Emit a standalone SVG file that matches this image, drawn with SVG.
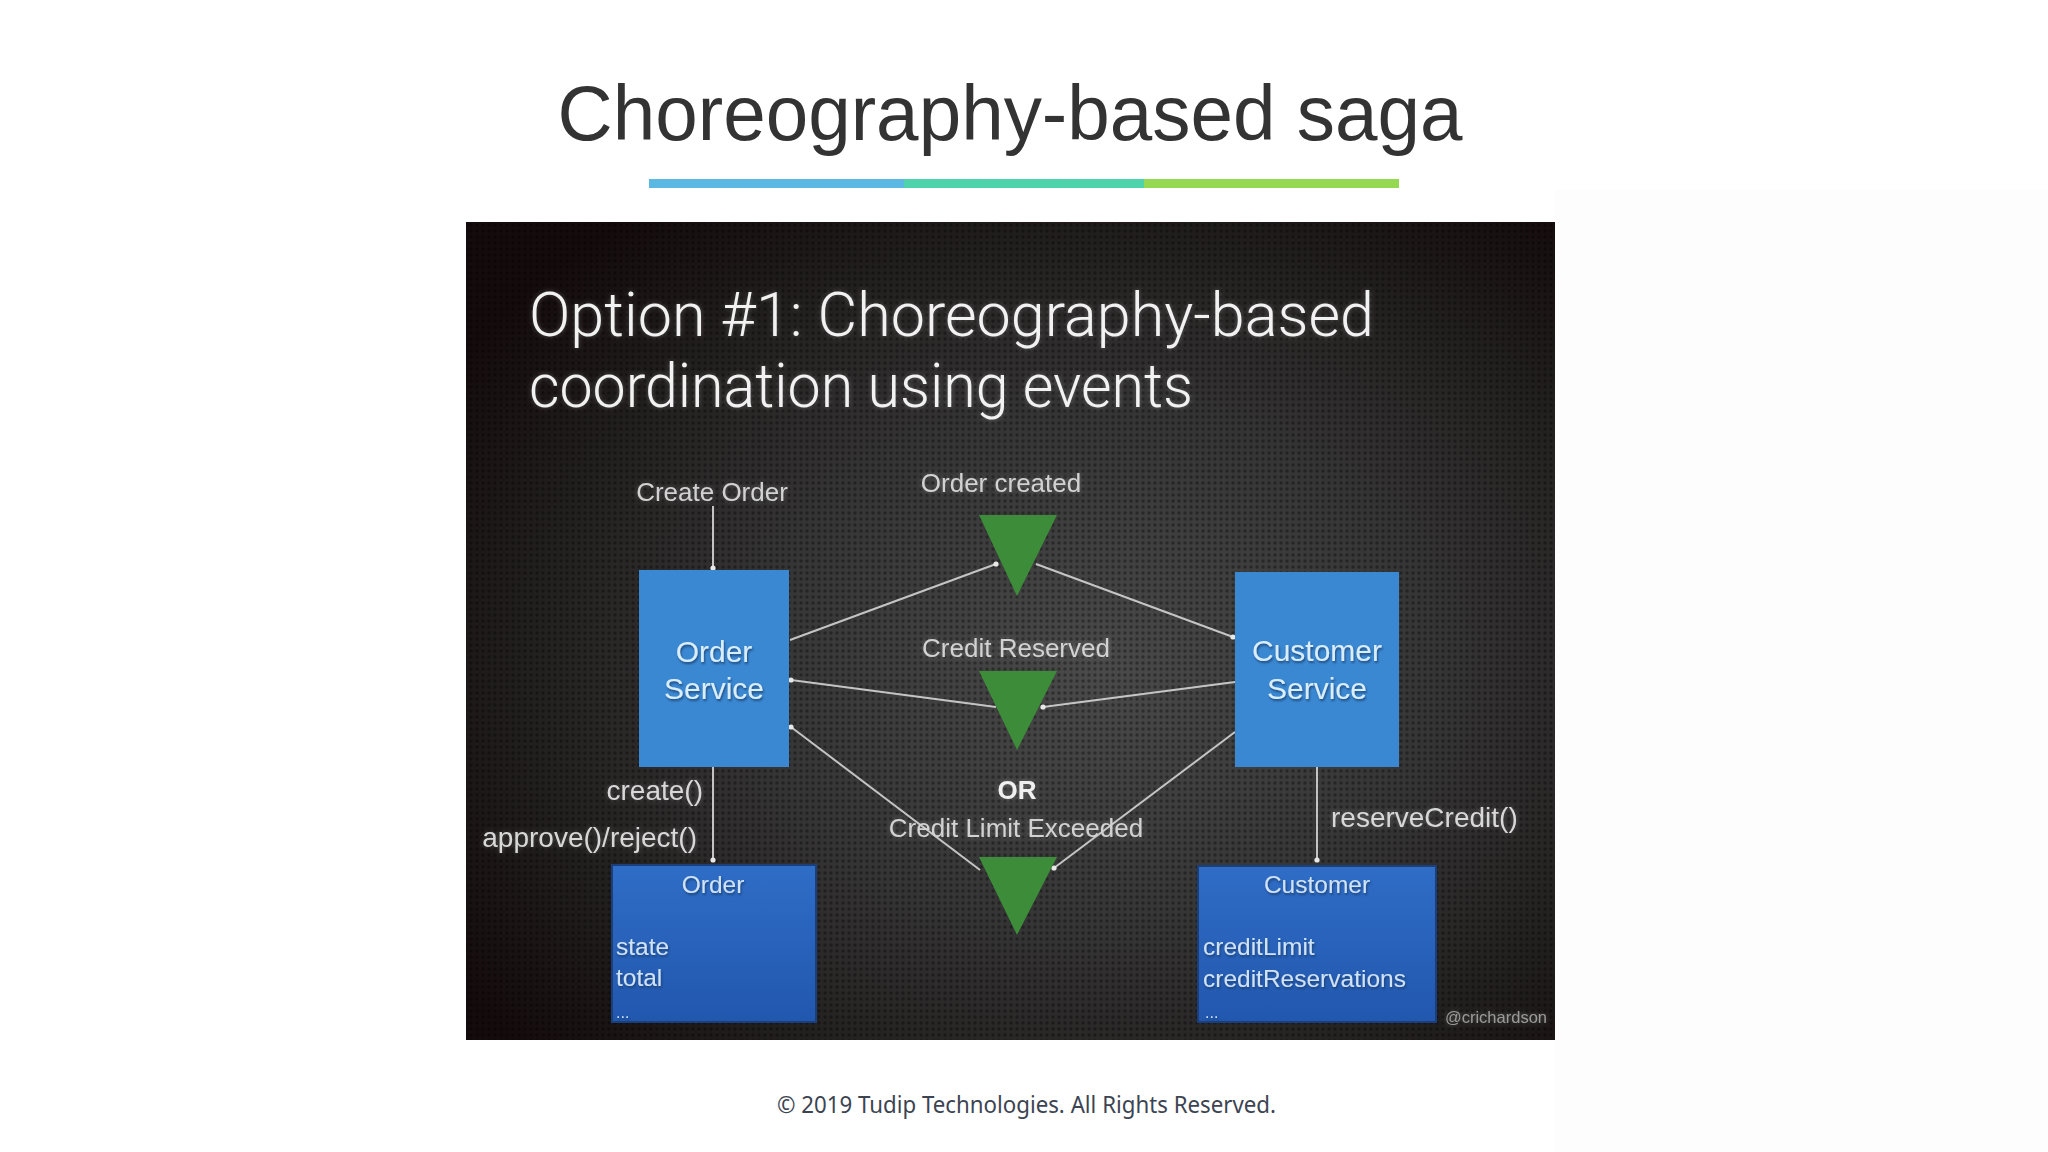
<svg xmlns="http://www.w3.org/2000/svg" width="2048" height="1152" viewBox="0 0 2048 1152">
  <defs>
    <radialGradient id="panelBg" cx="0.58" cy="0.55" r="0.7">
      <stop offset="0" stop-color="#4a4a4a"/>
      <stop offset="0.45" stop-color="#363535"/>
      <stop offset="0.8" stop-color="#1f1b1b"/>
      <stop offset="1" stop-color="#140b0c"/>
    </radialGradient>
    <pattern id="mesh" width="6" height="6" patternUnits="userSpaceOnUse">
      <circle cx="3" cy="3" r="1.7" fill="#000" fill-opacity="0.35"/>
    </pattern>
    <linearGradient id="entityFill" x1="0" y1="0" x2="0" y2="1">
      <stop offset="0" stop-color="#2f6dc6"/>
      <stop offset="1" stop-color="#2257ae"/>
    </linearGradient>
    <filter id="glow" x="-10%" y="-30%" width="120%" height="160%">
      <feGaussianBlur in="SourceAlpha" stdDeviation="2.5" result="b"/>
      <feFlood flood-color="#ffffff" flood-opacity="0.25"/>
      <feComposite in2="b" operator="in" result="g"/>
      <feMerge><feMergeNode in="g"/><feMergeNode in="SourceGraphic"/></feMerge>
    </filter>
    <filter id="boxText" x="-10%" y="-30%" width="120%" height="160%">
      <feDropShadow dx="1" dy="2" stdDeviation="1" flood-color="#133a6a" flood-opacity="0.8"/>
    </filter>
    <marker id="dot" viewBox="0 0 6 6" refX="3" refY="3" markerWidth="6" markerHeight="6" markerUnits="userSpaceOnUse">
      <circle cx="3" cy="3" r="2.6" fill="#e8e8e8"/>
    </marker>
    <style>
      .title { font-family: "Liberation Sans", Arial, sans-serif; font-size: 77px; fill: #333333; }
      .slideTitle { font-family: Roboto, "Liberation Sans", Arial, sans-serif; font-weight: 300; font-size: 62px; fill: #f2f2f2; }
      .lbl { font-family: "Liberation Sans", Arial, sans-serif; font-size: 26px; fill: #d2d2d2; }
      .call { font-family: "Liberation Sans", Arial, sans-serif; font-size: 28px; fill: #d8d8d8; }
      .svc { font-family: "Liberation Sans", Arial, sans-serif; font-size: 30px; fill: #d9eefc; text-anchor: middle; }
      .ent { font-family: "Liberation Sans", Arial, sans-serif; font-size: 24.5px; fill: #cfe2f6; }
      .svcBox { fill: #3b88d2; }
      .entBox { fill: url(#entityFill); stroke: #1b3f7a; stroke-width: 2; }
      .evt { fill: #3d8c3a; }
      .conn { stroke: #d4d4d4; stroke-width: 2; fill: none; stroke-opacity: 0.9; }
      .foot { font-family: "Noto Sans", "Liberation Sans", sans-serif; font-size: 24px; fill: #3c4452; }
    </style>
  </defs>

  <rect x="0" y="0" width="2048" height="1152" fill="#ffffff"/>
  <rect x="1555" y="190" width="493" height="962" fill="#fdfdfd"/>

  <!-- Page title -->
  <g id="page-title">
    <text class="title" x="1010" y="140" text-anchor="middle" textLength="905" lengthAdjust="spacingAndGlyphs">Choreography-based saga</text>
    <rect x="649" y="179" width="255" height="9" fill="#5bb8e3"/>
    <rect x="904" y="179" width="240" height="9" fill="#4fd3ac"/>
    <rect x="1144" y="179" width="255" height="9" fill="#95d852"/>
  </g>

  <!-- Slide panel -->
  <g id="panel">
    <rect x="466" y="222" width="1089" height="818" fill="url(#panelBg)"/>
    <rect x="466" y="222" width="1089" height="818" fill="url(#mesh)"/>
    <g filter="url(#glow)">
      <text class="slideTitle" x="529" y="336" textLength="845" lengthAdjust="spacingAndGlyphs">Option #1: Choreography-based</text>
      <text class="slideTitle" x="529" y="407" textLength="664" lengthAdjust="spacingAndGlyphs">coordination using events</text>
    </g>
  </g>

  <!-- Connectors -->
  <g id="connectors">
    <line class="conn" x1="713" y1="506" x2="713" y2="568" marker-end="url(#dot)"/>
    <line class="conn" x1="790" y1="640" x2="996" y2="564" marker-end="url(#dot)"/>
    <line class="conn" x1="1036" y1="564" x2="1233" y2="637" marker-end="url(#dot)"/>
    <line class="conn" x1="1235" y1="682" x2="1043" y2="707" marker-end="url(#dot)"/>
    <line class="conn" x1="996" y1="707" x2="791" y2="680" marker-end="url(#dot)"/>
    <line class="conn" x1="1235" y1="732" x2="1054" y2="868" marker-end="url(#dot)"/>
    <line class="conn" x1="980" y1="870" x2="791" y2="727" marker-end="url(#dot)"/>
    <line class="conn" x1="713" y1="767" x2="713" y2="860" marker-end="url(#dot)"/>
    <line class="conn" x1="1317" y1="767" x2="1317" y2="860" marker-end="url(#dot)"/>
  </g>

  <!-- Labels -->
  <g id="labels" filter="url(#glow)">
    <text class="lbl" x="712" y="501" text-anchor="middle">Create Order</text>
    <text class="lbl" x="1001" y="492" text-anchor="middle">Order created</text>
    <text class="lbl" x="1016" y="657" text-anchor="middle">Credit Reserved</text>
    <text class="lbl" x="1017" y="799" text-anchor="middle" style="font-weight:bold;fill:#f0f0f0">OR</text>
    <text class="lbl" x="1016" y="837" text-anchor="middle">Credit Limit Exceeded</text>
    <text class="call" x="703" y="800" text-anchor="end">create()</text>
    <text class="call" x="697" y="847" text-anchor="end">approve()/reject()</text>
    <text class="call" x="1331" y="827">reserveCredit()</text>
    <text x="1547" y="1023" text-anchor="end" style="font-family:'Liberation Sans',Arial,sans-serif;font-size:16.5px;fill:#9a9a9a">@crichardson</text>
  </g>

  <!-- Events -->
  <g id="event-order-created">
    <polygon class="evt" points="979,515 1057,515 1017,596"/>
  </g>
  <g id="event-credit-reserved">
    <polygon class="evt" points="979,671 1057,671 1017,750"/>
  </g>
  <g id="event-credit-limit-exceeded">
    <polygon class="evt" points="979,857 1057,857 1017,935"/>
  </g>

  <!-- Services -->
  <g id="order-service">
    <rect class="svcBox" x="639" y="570" width="150" height="197"/>
    <g filter="url(#boxText)">
      <text class="svc" x="714" y="662">Order</text>
      <text class="svc" x="714" y="699">Service</text>
    </g>
  </g>
  <g id="customer-service">
    <rect class="svcBox" x="1235" y="572" width="164" height="195"/>
    <g filter="url(#boxText)">
      <text class="svc" x="1317" y="661">Customer</text>
      <text class="svc" x="1317" y="699">Service</text>
    </g>
  </g>

  <!-- Entities -->
  <g id="order-entity">
    <rect class="entBox" x="612" y="865" width="204" height="157"/>
    <g filter="url(#boxText)">
      <text class="ent" x="713" y="893" text-anchor="middle">Order</text>
      <text class="ent" x="616" y="955">state</text>
      <text class="ent" x="616" y="986">total</text>
      <text class="ent" x="616" y="1018" style="font-size:16px">...</text>
    </g>
  </g>
  <g id="customer-entity">
    <rect class="entBox" x="1198" y="866" width="238" height="156"/>
    <g filter="url(#boxText)">
      <text class="ent" x="1317" y="893" text-anchor="middle">Customer</text>
      <text class="ent" x="1203" y="955">creditLimit</text>
      <text class="ent" x="1203" y="987">creditReservations</text>
      <text class="ent" x="1205" y="1018" style="font-size:16px">...</text>
    </g>
  </g>

  <!-- Footer -->
  <g id="footer">
    <text class="foot" x="777" y="1113" textLength="499" lengthAdjust="spacingAndGlyphs">© 2019 Tudip Technologies. All Rights Reserved.</text>
  </g>
</svg>
